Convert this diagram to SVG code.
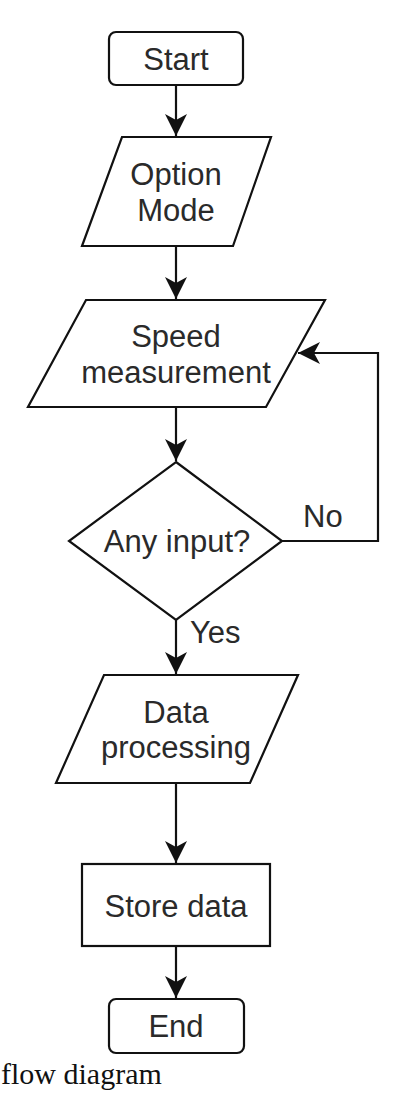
<svg xmlns="http://www.w3.org/2000/svg" width="414" height="1093" viewBox="0 0 414 1093">
<style>
.shape{fill:#fff;stroke:#111;stroke-width:2.2}
.edge{fill:none;stroke:#111;stroke-width:2.2}
.t{font-family:"Liberation Sans",Arial,sans-serif;font-size:31px;fill:#2a2a2a;text-anchor:middle}
.lbl{font-family:"Liberation Sans",Arial,sans-serif;font-size:31px;fill:#2a2a2a}
.cap{font-family:"Liberation Serif","Times New Roman",serif;font-size:30px;fill:#111}
</style>
<defs>
<marker id="arr" viewBox="-22 -12 24 24" refX="0" refY="0" markerWidth="24" markerHeight="24" markerUnits="userSpaceOnUse" orient="auto">
<path d="M0,0 L-22,-11 L-16,0 L-22,11 Z" fill="#111"/>
</marker>
</defs>
<rect width="414" height="1093" fill="#fff"/>
<g id="connectors">
<line class="edge" x1="176" y1="85" x2="176" y2="136" marker-end="url(#arr)"/>
<line class="edge" x1="176" y1="246" x2="176" y2="299" marker-end="url(#arr)"/>
<line class="edge" x1="176" y1="407" x2="176" y2="461" marker-end="url(#arr)"/>
<line class="edge" x1="176" y1="620" x2="176" y2="674" marker-end="url(#arr)"/>
<line class="edge" x1="176" y1="783" x2="176" y2="863" marker-end="url(#arr)"/>
<line class="edge" x1="176" y1="946" x2="176" y2="998" marker-end="url(#arr)"/>
<polyline class="edge" points="282,541 378,541 378,353 298,353" marker-end="url(#arr)"/>
<text class="lbl" x="303" y="527">No</text>
<text class="lbl" x="190" y="643">Yes</text>
</g>
<g id="start">
<rect class="shape" x="109" y="32" width="134" height="53" rx="7"/>
<text class="t" x="176" y="70">Start</text>
</g>
<g id="option-mode">
<polygon class="shape" points="122,137 271,137 233,246 82,246"/>
<text class="t" x="176" y="185">Option</text>
<text class="t" x="176" y="221">Mode</text>
</g>
<g id="speed-measurement">
<polygon class="shape" points="86,300 325,300 266,407 28,407"/>
<text class="t" x="176" y="347">Speed</text>
<text class="t" x="176" y="383">measurement</text>
</g>
<g id="any-input">
<polygon class="shape" points="176,462 282,541 176,620 69,541"/>
<text class="t" x="177" y="552">Any input?</text>
</g>
<g id="data-processing">
<polygon class="shape" points="104,675 298,675 250,783 56,783"/>
<text class="t" x="176" y="723">Data</text>
<text class="t" x="176" y="758">processing</text>
</g>
<g id="store-data">
<rect class="shape" x="82" y="864" width="188" height="82"/>
<text class="t" x="176" y="917">Store data</text>
</g>
<g id="end">
<rect class="shape" x="109" y="999" width="135" height="54" rx="7"/>
<text class="t" x="176" y="1037">End</text>
</g>
<text class="cap" x="1" y="1084">flow diagram</text>
</svg>
